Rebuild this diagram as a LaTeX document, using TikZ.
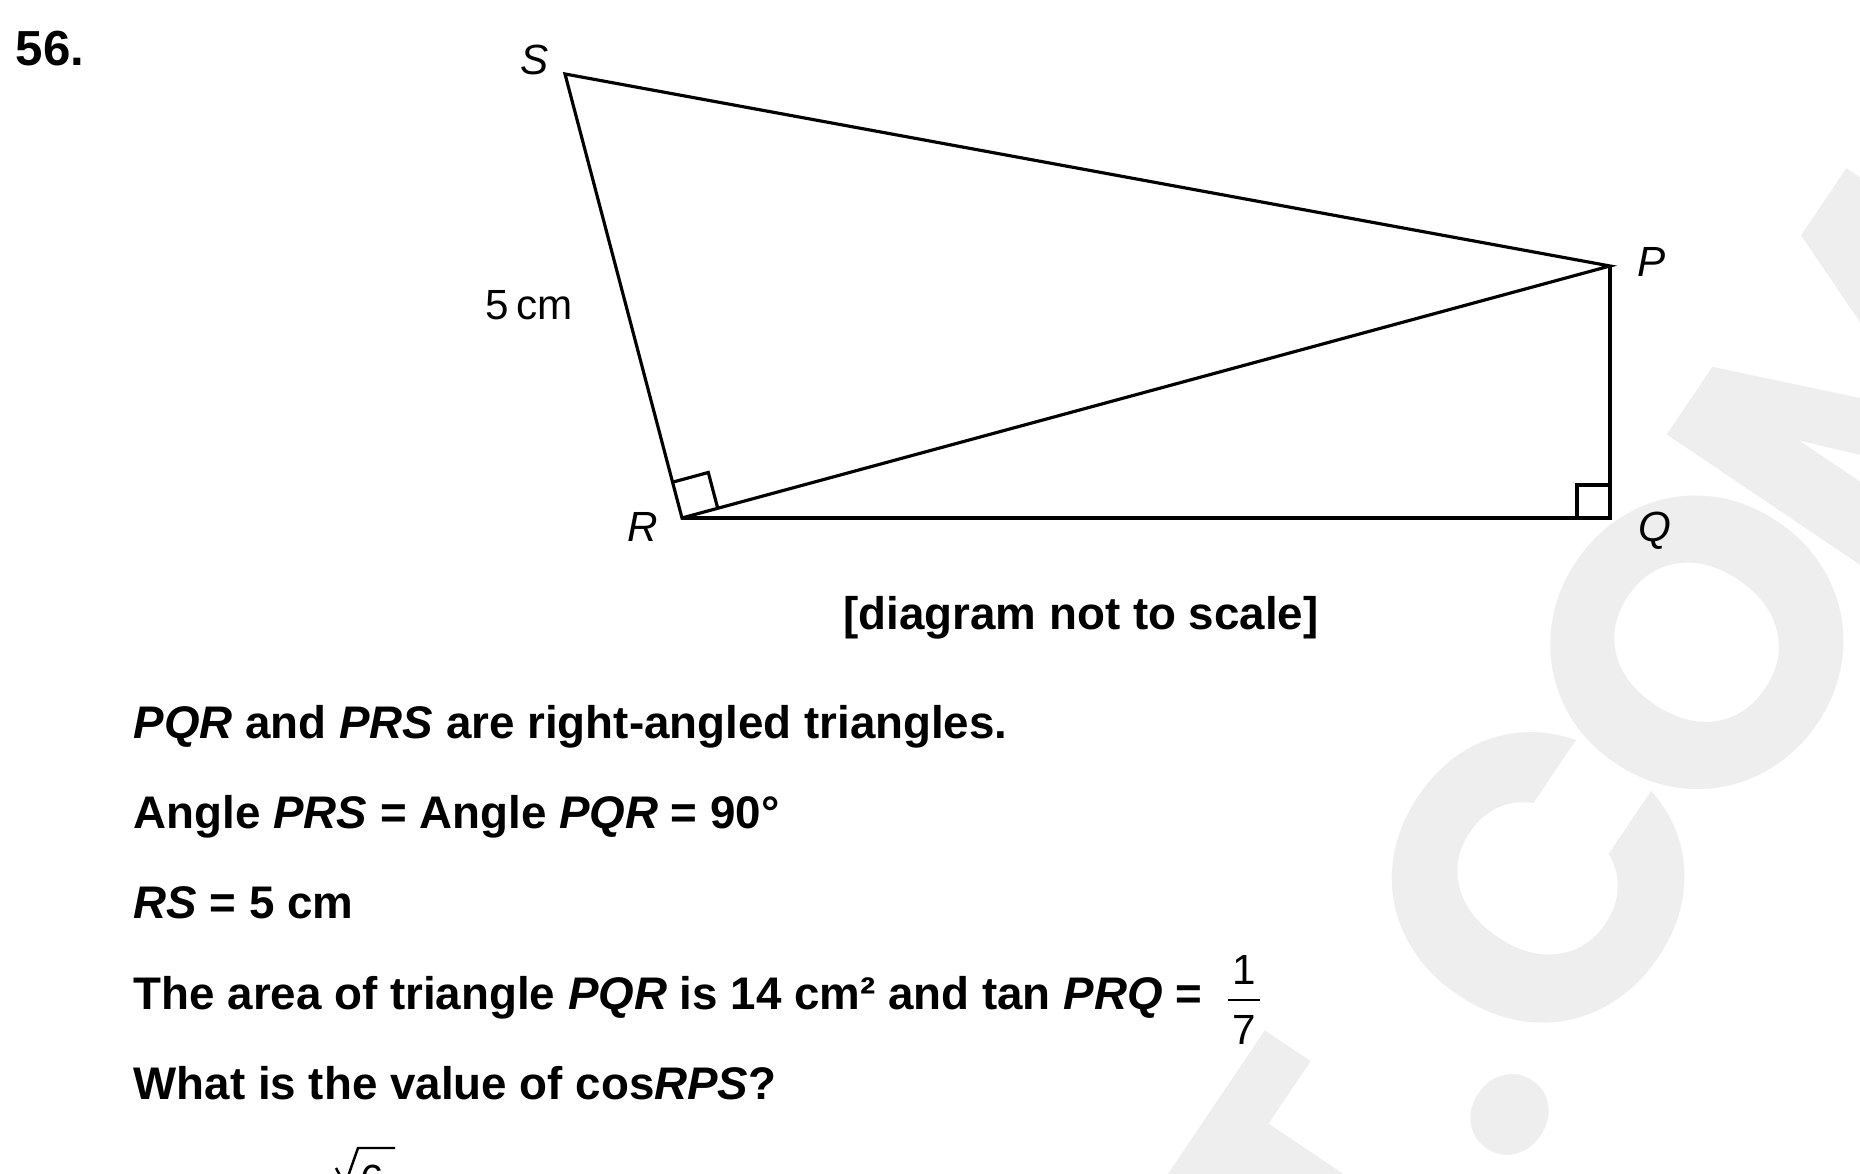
\documentclass[tikz,border=0pt]{standalone}
\usepackage{fontspec}
\setmainfont{Liberation Sans}
\newfontfamily\markfont{Poppins}
\usepackage{tikz}
\usetikzlibrary{calc}

\tikzset{
  edge/.style={line width=0.9pt, line join=miter},
  vlabel/.style={font=\fontsize{12}{14}\selectfont\itshape, inner sep=0pt, anchor=base},
  qline/.style={font=\fontsize{13}{15}\selectfont\bfseries, inner sep=0pt, anchor=base west},
  digit/.style={font=\fontsize{12}{14}\selectfont, inner sep=0pt, anchor=base}
}

\begin{document}
\begin{tikzpicture}[x=0.01cm,y=-0.01cm]
\useasboundingbox (0,0) rectangle (1860,1174);
\begin{scope}
  \clip (0,0) rectangle (1860,1174);
  \definecolor{markColor}{RGB}{238,238,238}
  \node[rotate=56, anchor=base west, inner sep=0pt, text=markColor, font=\markfont\bfseries\fontsize{115}{115}\selectfont] (mark) at (1372,1380) {T.C\kern-0.07emO\kern-0.07emM};

  \coordinate (S) at (565,74);
  \coordinate (P) at (1610,266);
  \coordinate (R) at (682,518);
  \coordinate (Q) at (1610,518);
  \draw[edge] (S) -- (P) -- (R) -- cycle;
  \draw[edge] (R) -- (Q) -- (P);
  \coordinate (Rs) at ($(R)!0.37cm!(S)$);
  \coordinate (Rp) at ($(R)!0.37cm!(P)$);
  \draw[edge] (Rs) -- ($(Rs)+(Rp)-(R)$) -- (Rp);
  \draw[edge] ($(Q)+(-33,0)$) -- ++(0,-33) -- ++(33,0);

  \node[vlabel] (labS) at (535,75) {S};
  \node[vlabel] (labP) at (1652,277) {P};
  \node[vlabel] (labR) at (643,542) {R};
  \node[vlabel] (labQ) at (1655,542) {Q};
  \node[digit] (side) at (529,320) {5\,cm};

  \node[font=\fontsize{14}{16}\selectfont\bfseries, inner sep=0pt, anchor=base west] (qnum) at (15,66) {56.};
  \node[font=\fontsize{13}{16}\selectfont\bfseries, inner sep=0pt, anchor=base] (noscale) at (1081,630) {[diagram not to scale]};

  \node[qline] (line1) at (133,739) {\textit{PQR} and \textit{PRS} are right-angled triangles.};
  \node[qline] (line2) at (133,829) {Angle \textit{PRS} = Angle \textit{PQR} = 90°};
  \node[qline] (line3) at (133,919) {\textit{RS} = 5 cm};
  \node[qline] (line4) at (133,1010) {The area of triangle \textit{PQR} is 14 cm² and tan \textit{PRQ} =};
  \node[digit] (fnum) at (1244,985) {1};
  \node[digit] (fden) at (1244,1045) {7};
  \draw[line width=0.6pt] (1228,1000) -- (1260,1000);
  \node[qline] (line5) at (133,1100) {What is the value of cos\textit{RPS}?};

  \draw[line width=0.7pt] (336,1168) -- (345,1185) -- (358,1148) -- (395,1148);
  \node[digit] (root) at (372,1195) {6};
\end{scope}
\end{tikzpicture}
\end{document}
